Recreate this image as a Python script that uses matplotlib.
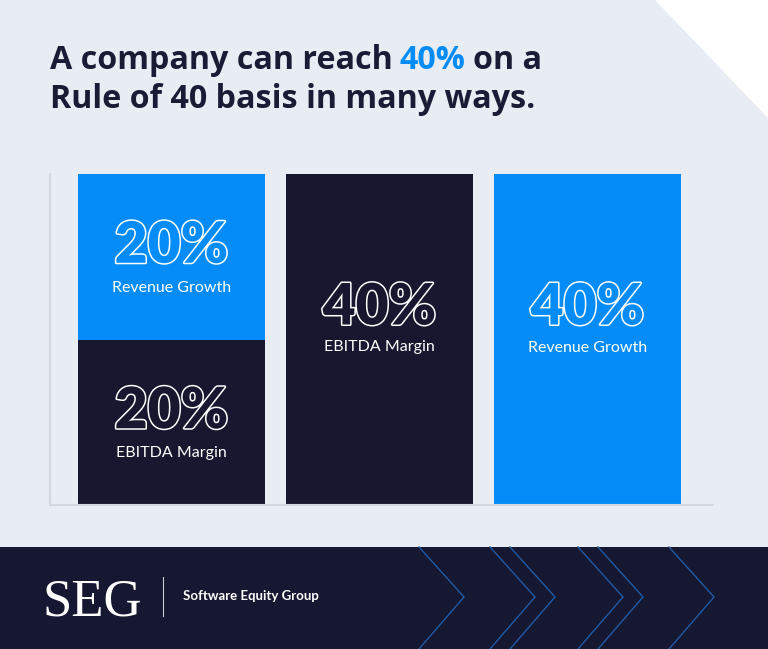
import matplotlib
matplotlib.use('Agg')
import matplotlib.pyplot as plt
import matplotlib.patheffects as pe
from matplotlib.patches import Polygon, Rectangle

# data: three ways to reach 40 on the Rule of 40
scenarios = ['Balanced', 'Profit', 'Growth']
ebitda_margin = [20, 40, 0]
revenue_growth = [20, 0, 40]
seg_labels = ['EBITDA Margin', 'Revenue Growth']

BG = '#E8EDF4'
NAVY = '#171830'
BLUE = '#068CF8'
FOOT = '#161731'
TITLE = '#1A1B35'
GRID = '#D3D8E0'

fig = plt.figure(figsize=(7.68, 6.49), dpi=100, facecolor=BG)

# background axes in pixel coordinates for decoration
bg = fig.add_axes([0, 0, 1, 1])
bg.set_xlim(0, 768)
bg.set_ylim(649, 0)
bg.axis('off')
bg.add_patch(Polygon([(655, 0), (768, 0), (768, 118)], closed=True,
                     facecolor='white', edgecolor='none'))
bg.add_patch(Rectangle((0, 547), 768, 102, facecolor=FOOT, edgecolor='none'))

# chevrons in the footer
for x0 in [419, 490, 510, 578, 598, 669]:
    bg.plot([x0, x0 + 45, x0], [547, 597, 649], color='#1E5BA8', lw=1.0,
            solid_joinstyle='miter')

# title
tfont = dict(fontsize=23.2, weight='bold', family='Open Sans')
t1 = bg.text(50, 69, 'A company can reach', color=TITLE, va='baseline',
             ha='left', **tfont)
t2 = bg.annotate('40%', xy=(1, 0), xycoords=t1, xytext=(5, 0),
                 textcoords='offset points', color=BLUE, va='bottom',
                 ha='left', **tfont)
bg.annotate('on a', xy=(1, 0), xycoords=t2, xytext=(5, 0),
            textcoords='offset points', color=TITLE, va='bottom', ha='left',
            **tfont)
bg.text(50, 108, 'Rule of 40 basis in many ways.', color=TITLE, va='baseline',
        ha='left', **tfont)

# footer logo
bg.text(43, 615, 'SEG', fontsize=38, family='Liberation Serif', color='white',
        va='baseline', ha='left')
bg.plot([163, 163], [577, 616], color='#C8CAD6', lw=0.8)
bg.text(183, 596, 'Software Equity Group', fontsize=9.5, weight='bold',
        family='Lato', color='white', va='center', ha='left')

# bar chart
ax = fig.add_axes([50 / 768, (649 - 505) / 649, 663 / 768, 331 / 649])
ax.set_facecolor('none')
x = list(range(len(scenarios)))
ax.bar(x, ebitda_margin, width=0.9, color=NAVY, linewidth=0)
ax.bar(x, revenue_growth, width=0.9, bottom=ebitda_margin, color=BLUE, linewidth=0)
ax.set_xlim(-0.584, 2.604)
ax.set_ylim(0, 40)
ax.set_xticks([])
ax.set_yticks([])
for s in ['top', 'right']:
    ax.spines[s].set_visible(False)
for s in ['left', 'bottom']:
    ax.spines[s].set_color(GRID)
    ax.spines[s].set_linewidth(1.5)

outline = [pe.withStroke(linewidth=2.2, foreground='white')]
for i in x:
    bottom = 0
    for val, lab, col in [(ebitda_margin[i], seg_labels[0], NAVY),
                          (revenue_growth[i], seg_labels[1], BLUE)]:
        if val > 0:
            cy = bottom + val / 2
            full = val >= 40
            off_pct = 15 if full else -6
            off_lab = -12 if full else -35
            ax.annotate(f'{val}%', (i, cy), xytext=(0, off_pct),
                        textcoords='offset pixels', ha='center', va='baseline',
                        fontsize=41, weight='heavy', family='Lato', color=col,
                        path_effects=outline)
            ax.annotate(lab, (i, cy), xytext=(0, off_lab),
                        textcoords='offset pixels', ha='center', va='baseline',
                        fontsize=11.5, family='Lato', color='white')
        bottom += val

fig.savefig('out.png', dpi=100, facecolor=BG)
